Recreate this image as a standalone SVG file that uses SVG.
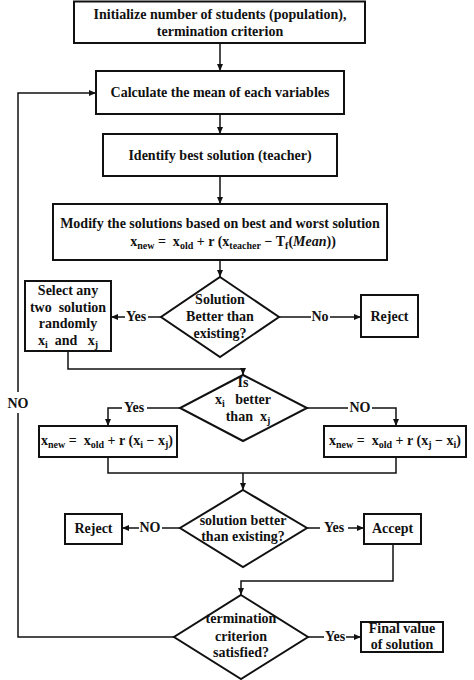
<svg xmlns="http://www.w3.org/2000/svg" width="474" height="680" viewBox="0 0 474 680">
<style>
text{font-family:"Liberation Serif","Times New Roman",serif;font-weight:bold;font-size:14px;fill:#111;text-anchor:middle}
.box{fill:#fff;stroke:#111;stroke-width:2}
.ln{fill:none;stroke:#111;stroke-width:1.5}
.sub{font-size:10px}
</style>
<defs>
<marker id="ar" markerWidth="8" markerHeight="8" refX="7" refY="4" orient="auto" markerUnits="userSpaceOnUse">
<path d="M0,1 L7,4 L0,7 Z" fill="#111"/>
</marker>
</defs>
<rect width="474" height="680" fill="#fff"/>
<g id="connectors">
<line class="ln" x1="220" y1="43" x2="220" y2="71" marker-end="url(#ar)"/>
<line class="ln" x1="220" y1="114" x2="220" y2="134" marker-end="url(#ar)"/>
<line class="ln" x1="220" y1="176" x2="220" y2="204" marker-end="url(#ar)"/>
<line class="ln" x1="220" y1="260" x2="220" y2="277" marker-end="url(#ar)"/>
<line class="ln" x1="161" y1="317" x2="148" y2="317"/>
<line class="ln" x1="125" y1="317" x2="111" y2="317" marker-end="url(#ar)"/>
<text x="136" y="321">Yes</text>
<line class="ln" x1="279" y1="317" x2="311" y2="317"/>
<line class="ln" x1="330" y1="317" x2="361" y2="317" marker-end="url(#ar)"/>
<text x="320" y="321">No</text>
<polyline class="ln" points="68,351 68,369 243,369 243,375" marker-end="url(#ar)"/>
<line class="ln" x1="180" y1="408" x2="147" y2="408"/>
<polyline class="ln" points="122,408 108,408 108,426" marker-end="url(#ar)"/>
<text x="134" y="412">Yes</text>
<line class="ln" x1="307" y1="408" x2="348" y2="408"/>
<polyline class="ln" points="372,408 396,408 396,426" marker-end="url(#ar)"/>
<text x="360" y="412">NO</text>
<polyline class="ln" points="108,457 108,473 396,473 396,457"/>
<line class="ln" x1="243" y1="473" x2="243" y2="490" marker-end="url(#ar)"/>
<line class="ln" x1="180" y1="528" x2="162" y2="528"/>
<line class="ln" x1="139" y1="528" x2="122" y2="528" marker-end="url(#ar)"/>
<text x="150" y="532">NO</text>
<line class="ln" x1="307" y1="528" x2="320" y2="528"/>
<line class="ln" x1="348" y1="528" x2="364" y2="528" marker-end="url(#ar)"/>
<text x="334" y="532">Yes</text>
<polyline class="ln" points="393,544 393,581 241,581 241,595" marker-end="url(#ar)"/>
<line class="ln" x1="308" y1="637" x2="324" y2="637"/>
<line class="ln" x1="346" y1="637" x2="361" y2="637" marker-end="url(#ar)"/>
<text x="335" y="641">Yes</text>
<polyline class="ln" points="174,637 18,637 18,93 96,93" marker-end="url(#ar)"/>
<rect x="5" y="392" width="27" height="21" fill="#fff"/>
<text x="18" y="408">NO</text>
</g>
<g id="init">
<rect class="box" x="74" y="1.5" width="291" height="41.5"/>
<text x="220" y="19">Initialize number of students (population),</text>
<text x="220" y="36">termination criterion</text>
</g>
<g id="mean">
<rect class="box" x="96" y="71" width="248" height="43"/>
<text x="220" y="97">Calculate the mean of each variables</text>
</g>
<g id="teacher">
<rect class="box" x="103" y="134" width="234" height="42"/>
<text x="220" y="160">Identify best solution (teacher)</text>
</g>
<g id="modify">
<rect class="box" x="53" y="204" width="334" height="56"/>
<text x="220" y="228">Modify the solutions based on best and worst solution</text>
<text x="233" y="246" xml:space="preserve">x<tspan class="sub" dy="3">new</tspan><tspan dy="-3"> =  x</tspan><tspan class="sub" dy="3">old</tspan><tspan dy="-3"> + r (x</tspan><tspan class="sub" dy="3">teacher</tspan><tspan dy="-3"> − T</tspan><tspan class="sub" dy="3">f</tspan><tspan dy="-3">(</tspan><tspan font-style="italic">Mean</tspan>))</text>
</g>
<g id="dec1">
<polygon class="box" points="220,277 279,317 220,357 161,317"/>
<text x="220" y="304">Solution</text>
<text x="220" y="321">Better than</text>
<text x="220" y="338">existing?</text>
</g>
<g id="select">
<rect class="box" x="25" y="281" width="86" height="70"/>
<text x="68" y="295">Select any</text>
<text x="68" y="312" xml:space="preserve">two  solution</text>
<text x="68" y="328">randomly</text>
<text x="68" y="345" xml:space="preserve">x<tspan class="sub" dy="3">i</tspan><tspan dy="-3">  and   x</tspan><tspan class="sub" dy="3">j</tspan></text>
</g>
<g id="reject1">
<rect class="box" x="361" y="295" width="57" height="42"/>
<text x="389.5" y="321">Reject</text>
</g>
<g id="dec2">
<polygon class="box" points="243,375 307,408 243,441 180,408"/>
<text x="243" y="387">Is</text>
<text x="243" y="404" xml:space="preserve">x<tspan class="sub" dy="3">i</tspan><tspan dy="-3">   better</tspan></text>
<text x="248" y="421" xml:space="preserve">than  x<tspan class="sub" dy="3">j</tspan></text>
</g>
<g id="upd1">
<rect class="box" x="39" y="426" width="138" height="31"/>
<text x="107" y="445" xml:space="preserve">x<tspan class="sub" dy="3">new</tspan><tspan dy="-3"> =  x</tspan><tspan class="sub" dy="3">old</tspan><tspan dy="-3"> + r (x</tspan><tspan class="sub" dy="3">i</tspan><tspan dy="-3"> − x</tspan><tspan class="sub" dy="3">j</tspan><tspan dy="-3">)</tspan></text>
</g>
<g id="upd2">
<rect class="box" x="324" y="426" width="142" height="31"/>
<text x="395" y="445" xml:space="preserve">x<tspan class="sub" dy="3">new</tspan><tspan dy="-3"> =  x</tspan><tspan class="sub" dy="3">old</tspan><tspan dy="-3"> + r (x</tspan><tspan class="sub" dy="3">j</tspan><tspan dy="-3"> − x</tspan><tspan class="sub" dy="3">i</tspan><tspan dy="-3">)</tspan></text>
</g>
<g id="dec3">
<polygon class="box" points="243,490 307,528 243,567 180,528"/>
<text x="243" y="525">solution better</text>
<text x="243" y="541">than existing?</text>
</g>
<g id="reject2">
<rect class="box" x="65" y="514" width="57" height="30"/>
<text x="93.5" y="533">Reject</text>
</g>
<g id="accept">
<rect class="box" x="364" y="514" width="57" height="30"/>
<text x="392.5" y="533">Accept</text>
</g>
<g id="dec4">
<polygon class="box" points="241,595 308,637 241,679 174,637"/>
<text x="241" y="623">termination</text>
<text x="241" y="641">criterion</text>
<text x="241" y="657">satisfied?</text>
</g>
<g id="final">
<rect class="box" x="361" y="622" width="82" height="30"/>
<text x="402" y="633">Final value</text>
<text x="402" y="649">of solution</text>
</g>
</svg>
